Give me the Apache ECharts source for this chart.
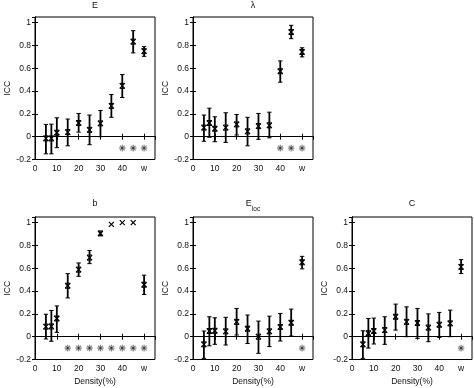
<!DOCTYPE html>
<html><head><meta charset="utf-8">
<script src="https://cdn.jsdelivr.net/npm/echarts@6/dist/echarts.min.js"></script>
<style>html,body{margin:0;padding:0;background:#fff;}#c{width:474px;height:388px;}</style>
</head><body><div id="c"></div>
<script>
const densities = [5, 7.5, 10, 15, 20, 25, 30, 35, 40, 45, 50];
const xTickLabels = {0:'0', 10:'10', 20:'20', 30:'30', 40:'40', 50:'w'};

const E_mean = [-0.015,-0.015,0.035,0.04,0.12,0.06,0.117,0.27,0.446,0.834,0.75];
const E_low  = [-0.15,-0.15,-0.096,-0.08,0.04,-0.07,0.0,0.17,0.344,0.735,0.705];
const E_high = [0.108,0.11,0.166,0.155,0.204,0.19,0.23,0.37,0.545,0.93,0.79];
const E_sig  = [40,45,50];

const L_mean = [0.08,0.12,0.07,0.08,0.108,0.047,0.093,0.1,0.574,0.918,0.743];
const L_low  = [-0.04,-0.005,-0.044,-0.05,0.015,-0.08,-0.023,-0.01,0.478,0.86,0.70];
const L_high = [0.19,0.25,0.175,0.21,0.195,0.17,0.204,0.215,0.665,0.977,0.78];
const L_sig  = [40,45,50];

const b_mean = [0.088,0.09,0.16,0.447,0.588,0.694,0.906,0.985,1.0,1.0,0.456];
const b_low  = [-0.02,-0.04,0.038,0.34,0.53,0.641,0.89,0.985,1.0,1.0,0.37];
const b_high = [0.197,0.23,0.27,0.553,0.647,0.756,0.92,0.985,1.0,1.0,0.54];
const b_sig  = [15,20,25,30,35,40,45,50];

const Eloc_mean = [-0.067,0.05,0.052,0.047,0.13,0.07,0.0,0.047,0.085,0.122,0.653];
const Eloc_low  = [-0.19,-0.08,-0.067,-0.073,0.015,-0.06,-0.146,-0.087,-0.038,0.006,0.595];
const Eloc_high = [0.05,0.175,0.166,0.17,0.248,0.19,0.137,0.18,0.204,0.242,0.705];
const Eloc_sig  = [50];

const C_mean = [-0.067,0.03,0.05,0.058,0.175,0.13,0.12,0.08,0.105,0.117,0.612];
const C_low  = [-0.19,-0.1,-0.064,-0.067,0.058,0.0,-0.015,-0.044,-0.006,0.0,0.554];
const C_high = [0.052,0.16,0.163,0.175,0.286,0.262,0.248,0.2,0.213,0.233,0.676];
const C_sig  = [50];

const sigLevel = -0.1;

const FONT = "'Liberation Sans', Arial, sans-serif";
const panels = [
  {title:'{a|E}', mean:E_mean, low:E_low, high:E_high, sig:E_sig, left:35, top:17, xname:''},
  {title:'{a|λ}', mean:L_mean, low:L_low, high:L_high, sig:L_sig, left:193, top:17, xname:''},
  {title:'{a|b}', mean:b_mean, low:b_low, high:b_high, sig:b_sig, left:35, top:217, xname:'Density(%)'},
  {title:'{a|E}{b|loc}', mean:Eloc_mean, low:Eloc_low, high:Eloc_high, sig:Eloc_sig, left:193, top:217, xname:'Density(%)'},
  {title:'{a|C}', mean:C_mean, low:C_low, high:C_high, sig:C_sig, left:352, top:217, xname:'Density(%)'}
];
const W = 120, H = 142.5;

const grid = [], xAxis = [], yAxis = [], series = [], title = [];
panels.forEach((p, i) => {
  grid.push({left:p.left, top:p.top, width:W, height:H, show:true, borderColor:'#000', borderWidth:1});
  title.push({text:p.title, left:p.left + W/2, top:p.top - (i >= 2 ? 18 : 16), textAlign:'center', padding:0,
    textStyle:{fontFamily:FONT, fontSize:9, fontWeight:'normal', color:'#111',
      rich:{a:{fontFamily:FONT, fontSize:9, color:'#111', verticalAlign:'top', lineHeight:14},
            b:{fontFamily:FONT, fontSize:6.5, color:'#111', verticalAlign:'bottom', lineHeight:14, padding:[5,0,0,0]}}}});
  const common = {gridIndex:i, type:'value', splitLine:{show:false}};
  xAxis.push(Object.assign({}, common, {position:'bottom', min:0, max:55, interval:10,
    name:p.xname, nameLocation:'middle', nameGap:18, nameTextStyle:{fontFamily:FONT, fontSize:8.5, color:'#111'},
    axisLine:{show:true, lineStyle:{color:'#000', width:1}},
    axisTick:{show:true, inside:true, length:3, lineStyle:{color:'#000'}},
    axisLabel:{show:true, fontFamily:FONT, fontSize:8.5, color:'#111', margin:5, showMaxLabel:false,
      formatter:(v)=> (xTickLabels[v] !== undefined ? xTickLabels[v] : '')}}));
  xAxis.push(Object.assign({}, common, {position:'top', min:0, max:55, interval:10,
    axisLine:{show:true, lineStyle:{color:'#000', width:1}},
    axisTick:{show:true, inside:true, length:3, lineStyle:{color:'#000'}},
    axisLabel:{show:false}}));
  yAxis.push(Object.assign({}, common, {position:'left', min:-0.2, max:1.05, interval:0.2,
    name:'ICC', nameLocation:'middle', nameGap:23, nameRotate:90, nameTextStyle:{fontFamily:FONT, fontSize:8.5, color:'#111'},
    axisLine:{show:true, lineStyle:{color:'#000', width:1}},
    axisTick:{show:true, inside:true, length:3, lineStyle:{color:'#000'}},
    axisLabel:{show:true, fontFamily:FONT, fontSize:8.5, color:'#111', margin:4, showMaxLabel:false,
      formatter:(v)=> String(Math.round(v*10)/10)}}));
  yAxis.push(Object.assign({}, common, {position:'right', min:-0.2, max:1.05, interval:0.2,
    axisLine:{show:true, lineStyle:{color:'#000', width:1}},
    axisTick:{show:true, inside:true, length:3, lineStyle:{color:'#000'}},
    axisLabel:{show:false}}));

  const data = densities.map((d, k) => [d, p.mean[k], p.low[k], p.high[k]]);
  series.push({type:'custom', xAxisIndex:2*i, yAxisIndex:2*i, data:data,
    encode:{x:0, y:[1,2,3]}, silent:true,
    renderItem:(params, api) => {
      const x = api.value(0), m = api.value(1), lo = api.value(2), hi = api.value(3);
      const pm = api.coord([x, m]), pl = api.coord([x, lo]), ph = api.coord([x, hi]);
      const st = {stroke:'#000', lineWidth:1.8};
      const ch = [];
      const c = 2.2, s = 2.5;
      if (Math.abs(hi - lo) > 1e-9) {
        ch.push({type:'line', shape:{x1:pl[0], y1:pl[1], x2:ph[0], y2:ph[1]}, style:st});
        ch.push({type:'line', shape:{x1:pl[0]-c, y1:pl[1], x2:pl[0]+c, y2:pl[1]}, style:{stroke:'#000', lineWidth:1}});
        ch.push({type:'line', shape:{x1:ph[0]-c, y1:ph[1], x2:ph[0]+c, y2:ph[1]}, style:{stroke:'#000', lineWidth:1}});
        ch.push({type:'line', shape:{x1:pm[0]-s, y1:pm[1]-s, x2:pm[0]+s, y2:pm[1]-s}, style:{stroke:'#000', lineWidth:1}});
        ch.push({type:'line', shape:{x1:pm[0]-s, y1:pm[1]+s, x2:pm[0]+s, y2:pm[1]+s}, style:{stroke:'#000', lineWidth:1}});
      }
      ch.push({type:'line', shape:{x1:pm[0]-s, y1:pm[1]-s, x2:pm[0]+s, y2:pm[1]+s}, style:{stroke:'#000', lineWidth:1.2}});
      ch.push({type:'line', shape:{x1:pm[0]-s, y1:pm[1]+s, x2:pm[0]+s, y2:pm[1]-s}, style:{stroke:'#000', lineWidth:1.2}});
      return {type:'group', children:ch};
    }});
  series.push({type:'custom', xAxisIndex:2*i, yAxisIndex:2*i, data:p.sig.map(d => [d, sigLevel]),
    encode:{x:0, y:1}, silent:true,
    renderItem:(params, api) => {
      const pt = api.coord([api.value(0), api.value(1)]);
      const r = 3.3, d = r*0.72;
      const st = {stroke:'#8a8a8a', lineWidth:1.3};
      return {type:'group', children:[
        {type:'line', shape:{x1:pt[0]-r, y1:pt[1], x2:pt[0]+r, y2:pt[1]}, style:st},
        {type:'line', shape:{x1:pt[0], y1:pt[1]-r, x2:pt[0], y2:pt[1]+r}, style:st},
        {type:'line', shape:{x1:pt[0]-d, y1:pt[1]-d, x2:pt[0]+d, y2:pt[1]+d}, style:st},
        {type:'line', shape:{x1:pt[0]-d, y1:pt[1]+d, x2:pt[0]+d, y2:pt[1]-d}, style:st},
        {type:'circle', shape:{cx:pt[0], cy:pt[1], r:1.1}, style:{fill:'#333'}}
      ]};
    }});
});

const chart = echarts.init(document.getElementById('c'), null, {renderer:'canvas'});
chart.setOption({backgroundColor:'#fff', animation:false, title, grid, xAxis, yAxis, series});
</script></body></html>
